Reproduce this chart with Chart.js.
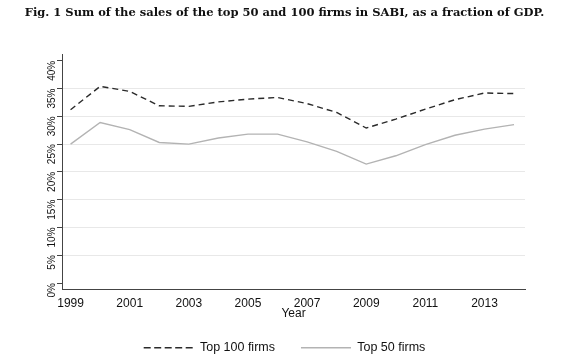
<!DOCTYPE html>
<html>
<head>
<meta charset="utf-8">
<script src="https://cdn.jsdelivr.net/npm/chart.js@4/dist/chart.umd.min.js"></script>
<style>
    body { margin: 0; background: #fff; }
    #wrap { width: 569px; height: 364px; }
</style>
</head>
<body>
<div id="wrap"><canvas id="chart" width="569" height="364"></canvas></div>
<script>
var years = [1999, 2000, 2001, 2002, 2003, 2004, 2005, 2006, 2007, 2008, 2009, 2010, 2011, 2012, 2013, 2014];
var top100 = [31.2, 35.4, 34.5, 31.9, 31.8, 32.6, 33.1, 33.4, 32.3, 30.7, 27.9, 29.5, 31.3, 33.0, 34.2, 34.1];
var top50 = [25.0, 28.9, 27.6, 25.3, 25.0, 26.1, 26.8, 26.8, 25.4, 23.7, 21.4, 22.9, 24.9, 26.6, 27.7, 28.5];
var xTicks = [1999, 2001, 2003, 2005, 2007, 2009, 2011, 2013];
var yTicks = [0, 5, 10, 15, 20, 25, 30, 35, 40];
var seriesNames = ["Top 100 firms", "Top 50 firms"];
var titleText = "Fig. 1 Sum of the sales of the top 50 and 100 firms in SABI, as a fraction of GDP.";

function points(values) {
    return years.map(function (y, i) {
        return { x: y, y: values[i] };
    });
}

// keep the dash pattern in the legend (point style drops it)
function legendLabels(chart) {
    var items = Chart.defaults.plugins.legend.labels.generateLabels(chart);
    items.forEach(function (item) {
        var ds = chart.data.datasets[item.datasetIndex];
        item.lineDash = ds.borderDash ? [7, 3.5] : [];
        item.strokeStyle = ds.borderColor;
        item.lineWidth = ds.borderWidth;
    });
    return items;
}

var sans = "'Liberation Sans', Arial, sans-serif";

new Chart("chart", {
    type: "line",
    data: {
        datasets: [{
            label: seriesNames[0],
            data: points(top100),
            borderColor: "#2a2a2a",
            borderWidth: 1.4,
            borderDash: [6, 4],
            pointRadius: 0,
            tension: 0,
            fill: false
        }, {
            label: seriesNames[1],
            data: points(top50),
            borderColor: "#b3b3b3",
            borderWidth: 1.4,
            pointRadius: 0,
            tension: 0,
            fill: false
        }]
    },
    options: {
        responsive: false,
        animation: false,
        layout: { padding: 0 },
        plugins: {
            title: {
                display: true,
                text: titleText,
                color: "#111",
                font: { family: "'DejaVu Serif', serif", size: 11.5, weight: "bold" },
                padding: { top: 6, bottom: 35 }
            },
            legend: {
                position: "bottom",
                labels: {
                    usePointStyle: true,
                    pointStyle: "line",
                    pointStyleWidth: 50,
                    boxHeight: 12,
                    padding: 26,
                    color: "#111",
                    font: { family: sans, size: 12.5 },
                    generateLabels: legendLabels
                }
            },
            tooltip: { enabled: false }
        },
        scales: {
            x: {
                type: "linear",
                min: 1998.71,
                max: 2014.37,
                afterBuildTicks: function (scale) {
                    scale.ticks = xTicks.map(function (v) { return { value: v }; });
                },
                afterFit: function (scale) { scale.height = 26.5; },
                grid: { display: false, drawTicks: true, tickLength: 5, tickColor: "#444" },
                border: { color: "#444", width: 1 },
                ticks: {
                    color: "#111",
                    maxRotation: 0,
                    padding: 2,
                    font: { family: sans, size: 12 },
                    callback: function (v) { return String(v); }
                },
                title: {
                    display: true,
                    text: "Year",
                    color: "#111",
                    padding: -5,
                    font: { family: sans, size: 12 }
                }
            },
            y: {
                min: -1.08,
                max: 41.08,
                afterBuildTicks: function (scale) {
                    scale.ticks = yTicks.map(function (v) { return { value: v }; });
                },
                afterFit: function (scale) { scale.width = 62; },
                grid: {
                    color: function (c) {
                        var v = c.tick && c.tick.value;
                        return (v === 0 || v === 40) ? "rgba(0,0,0,0)" : "#e8e8e8";
                    },
                    tickColor: "#444",
                    tickLength: 5
                },
                border: { color: "#444", width: 1 },
                ticks: {
                    color: "#111",
                    minRotation: 90,
                    maxRotation: 90,
                    padding: 5,
                    font: { family: sans, size: 10 },
                    callback: function (v) { return v + "%"; }
                }
            },
            spacer: {
                position: "right",
                afterFit: function (scale) { scale.width = 44; },
                grid: { display: false },
                border: { display: false },
                ticks: { display: false }
            }
        }
    }
});
</script>
</body>
</html>
